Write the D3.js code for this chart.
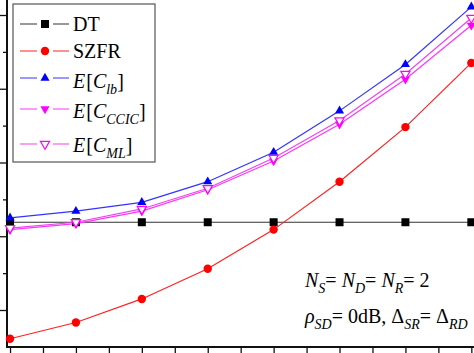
<!DOCTYPE html>
<html>
<head>
<meta charset="utf-8">
<script src="https://cdn.jsdelivr.net/npm/d3@7"></script>
<style>
  body { margin: 0; overflow: hidden; background: #fff; }
  svg { display: block; }
</style>
</head>
<body>
<svg id="chart" width="474" height="353"></svg>
<script>
// x values (cropped axis, labels not visible)
const xVals = [0, 5, 10, 15, 20, 25, 30, 35];
const dtVals = [2.19, 2.19, 2.19, 2.19, 2.19, 2.19, 2.19, 2.19];
const szfrVals = [0.61, 0.83, 1.15, 1.56, 2.09, 2.74, 3.48, 4.35];
const clbVals = [2.25, 2.34, 2.46, 2.74, 3.14, 3.70, 4.33, 5.11];
const ccicVals = [2.09, 2.17, 2.34, 2.63, 3.02, 3.52, 4.13, 4.86];
const mlVals = [2.11, 2.19, 2.37, 2.65, 3.06, 3.57, 4.20, 4.96];

const serif = "'Liberation Serif', 'Times New Roman', serif";

const svg = d3.select("#chart");

const x = d3.scaleLinear().domain([-0.23, 36]).range([7, 7 + 36.23 * 13.18]);
const y = d3.scaleLinear().domain([1, 5]).range([310, 15]);
const yBottom = y(0.5);

// X axis (ticks pointing down, labels cropped away)
svg.append("g")
    .attr("transform", `translate(0,${yBottom})`)
    .call(d3.axisBottom(x).tickValues(d3.range(0, 37.5, 2.5)).tickSize(8).tickFormat(""))
    .call(g => g.select(".domain").remove())
    .selectAll("line").attr("stroke", "#111").attr("stroke-width", 1.3);

// Y axis
svg.append("g")
    .attr("transform", "translate(7,0)")
    .call(d3.axisLeft(y).tickValues([1, 2, 3, 4, 5]).tickSize(7).tickFormat(""))
    .call(g => g.select(".domain").remove())
    .selectAll("line").attr("stroke", "#111").attr("stroke-width", 1.3);
svg.append("g")
    .attr("transform", "translate(7,0)")
    .call(d3.axisLeft(y).tickValues([1.5, 2.5, 3.5, 4.5]).tickSize(4).tickFormat(""))
    .call(g => g.select(".domain").remove())
    .selectAll("line").attr("stroke", "#111").attr("stroke-width", 1.3);

svg.append("line")
    .attr("x1", 7).attr("x2", 7).attr("y1", 0).attr("y2", yBottom + 1)
    .attr("stroke", "#111").attr("stroke-width", 2);
svg.append("line")
    .attr("x1", 6).attr("x2", 474).attr("y1", yBottom).attr("y2", yBottom)
    .attr("stroke", "#111").attr("stroke-width", 2);

const series = [
    {name: "DT", vals: dtVals, color: "#333", mark: "square", fill: "#000"},
    {name: "SZFR", vals: szfrVals, color: "#f22", mark: "circle", fill: "#f00"},
    {name: "clb", vals: clbVals, color: "#33f", mark: "up", fill: "#00f"},
    {name: "ccic", vals: ccicVals, color: "#f3f", mark: "down", fill: "#f0f"},
    {name: "ml", vals: mlVals, color: "#e4e", mark: "down", fill: "#fff"}
];

function drawMarker(g, s, cx, cy) {
    if (s.mark === "square") {
        g.append("rect").attr("x", cx - 4).attr("y", cy - 4).attr("width", 8).attr("height", 8)
            .attr("fill", s.fill);
    } else if (s.mark === "circle") {
        g.append("circle").attr("cx", cx).attr("cy", cy).attr("r", 4.2).attr("fill", s.fill);
    } else {
        const rot = s.mark === "down" ? 180 : 0;
        g.append("path")
            .attr("d", d3.symbol().type(d3.symbolTriangle).size(36)())
            .attr("transform", `translate(${cx},${cy}) rotate(${rot})`)
            .attr("fill", s.fill)
            .attr("stroke", s.fill === "#fff" ? "#f0f" : "none")
            .attr("stroke-width", 1.2);
    }
}

const line = d3.line().x((d, i) => x(xVals[i])).y(d => y(d));

series.forEach(s => {
    svg.append("path")
        .datum(s.vals)
        .attr("d", line)
        .attr("fill", "none")
        .attr("stroke", s.color)
        .attr("stroke-width", 1.2);
});
series.forEach(s => {
    const g = svg.append("g");
    s.vals.forEach((v, i) => drawMarker(g, s, x(xVals[i]), y(v)));
});

// rich text helper: parts with italic / subscript
function richText(parent, tx, ty, parts) {
    const t = parent.append("text")
        .attr("x", tx).attr("y", ty)
        .style("font-family", serif)
        .style("white-space", "pre")
        .attr("fill", "#000");
    let shift = 0;
    parts.forEach(p => {
        const s = p.sub ? 6 : 0;
        const ts = t.append("tspan")
            .attr("dy", s - shift)
            .style("font-style", p.it ? "italic" : "normal")
            .style("font-size", p.sub ? "14px" : "20px")
            .text(p.t);
        if (p.dx) ts.attr("dx", p.dx);
        shift = s;
    });
    return t;
}

// Legend
const legend = svg.append("g");
legend.append("rect")
    .attr("x", 13).attr("y", 4).attr("width", 142).attr("height", 158)
    .attr("fill", "#fff").attr("stroke", "#555").attr("stroke-width", 1.2);

const legendRows = [
    {lineY: 24, textY: 31, parts: [{t: "DT"}]},
    {lineY: 51, textY: 58, parts: [{t: "SZFR"}]},
    {lineY: 78, textY: 88, parts: [{t: "E", it: true}, {t: "[", dx: 1}, {t: "C", it: true}, {t: "lb", it: true, sub: true}, {t: "]"}]},
    {lineY: 109, textY: 118, parts: [{t: "E", it: true}, {t: "[", dx: 1}, {t: "C", it: true}, {t: "CCIC", it: true, sub: true}, {t: "]"}]},
    {lineY: 144, textY: 152, parts: [{t: "E", it: true}, {t: "[", dx: 1}, {t: "C", it: true}, {t: "ML", it: true, sub: true}, {t: "]"}]}
];

legendRows.forEach((r, i) => {
    const s = series[i];
    legend.append("line")
        .attr("x1", 20).attr("x2", 69).attr("y1", r.lineY).attr("y2", r.lineY)
        .attr("stroke", s.color).attr("stroke-width", 1.2);
    legend.append("rect")
        .attr("x", 37).attr("y", r.lineY - 6).attr("width", 16).attr("height", 12)
        .attr("fill", "#fff");
    drawMarker(legend, s, 45, r.lineY);
    richText(legend, 73, r.textY, r.parts);
});

// Annotation
richText(svg, 305, 287, [
    {t: "N", it: true}, {t: "S", it: true, sub: true}, {t: "= "},
    {t: "N", it: true}, {t: "D", it: true, sub: true}, {t: "= "},
    {t: "N", it: true}, {t: "R", it: true, sub: true}, {t: "= 2"}
]);
richText(svg, 305, 323, [
    {t: "ρ", it: true}, {t: "SD", it: true, sub: true}, {t: "= 0dB, Δ"},
    {t: "SR", it: true, sub: true}, {t: "= Δ"},
    {t: "RD", it: true, sub: true}
]);
</script>
</body>
</html>
